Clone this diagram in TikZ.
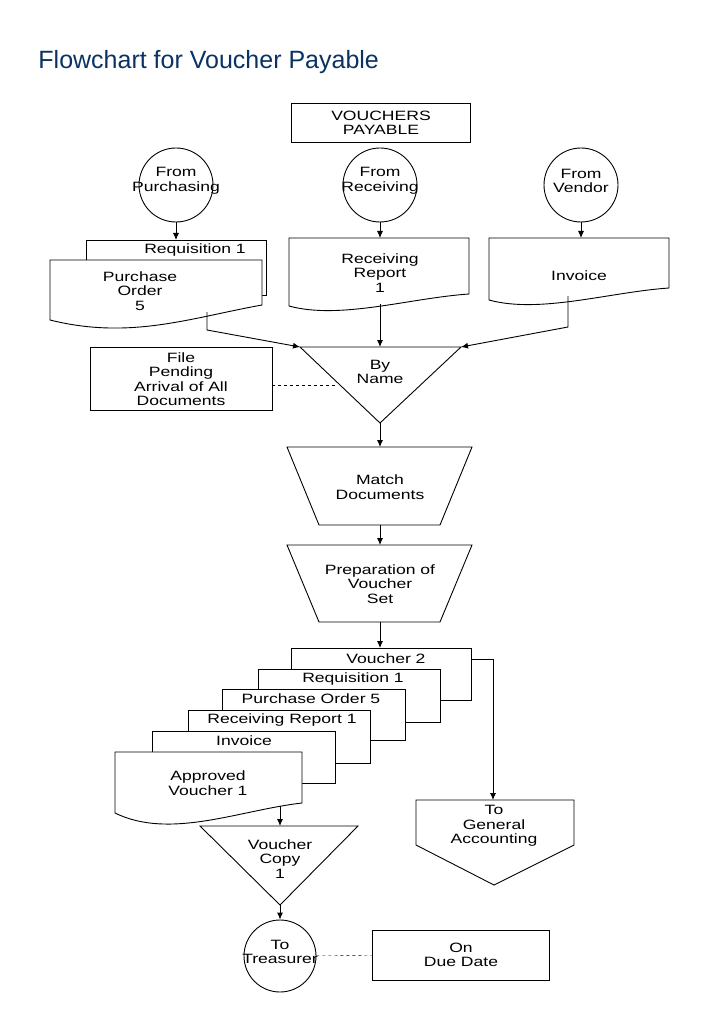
\documentclass[tikz,border=0pt]{standalone}
\usepackage{fontspec}
\setmainfont{Liberation Sans}
\newfontfamily\chartfont{Liberation Sans}[FakeStretch=1.3]
\usepackage{tikz}
\usetikzlibrary{arrows.meta}
\definecolor{titleblue}{RGB}{10,50,100}

\begin{document}
\begin{tikzpicture}[x=1pt,y=-1pt,
    line width=0.9pt,
    lbl/.style={font=\chartfont\fontsize{13.5}{14.5}\selectfont,align=center,inner sep=0pt},
    flow/.style={-{Latex[length=7pt,width=6pt]}},
    link/.style={dashed,thin},
    disk/.style={draw,circle,minimum size=74pt,inner sep=0pt}]
    \useasboundingbox (0,0) rectangle (712,1024);
    \node[anchor=west,text=titleblue,font=\fontsize{25}{25}\selectfont,inner sep=0pt] (title) at (38,62) {Flowchart for Voucher Payable};

    % Sources
    \node[draw,minimum width=179pt,minimum height=39pt,lbl] (vp) at (381,123) {VOUCHERS\\PAYABLE};
    \node[disk] (purch) at (176,185) {};
    \node[lbl] (purcht) at (176,181) {From\\Purchasing};
    \node[disk] (recv) at (380,185) {};
    \node[lbl] (recvt) at (380,181) {From\\Receiving};
    \node[disk] (vend) at (581,185) {};
    \node[lbl] (vendt) at (581,181) {From\\Vendor};

    % Incoming documents
    \draw[fill=white] (86,240) rectangle (266,295);
    \node[lbl] (req) at (195,250) {Requisition 1};
    \draw[fill=white] (50,260) -- (262,260) -- (262,305) .. controls (190,318) and (130,340) .. (50,320) -- cycle;
    \node[lbl] (po) at (140,291) {Purchase\\Order\\5};
    \coordinate (poout) at (207,312);
    \draw (289,238) -- (469,238) -- (469,294) .. controls (410,298) and (340,320) .. (289,306) -- cycle;
    \node[lbl] (rr) at (380,273) {Receiving\\Report\\1};
    \coordinate (rrout) at (380,304);
    \draw (489,238) -- (669,238) -- (669,288) .. controls (610,292) and (540,314) .. (489,300) -- cycle;
    \node[lbl] (inv) at (579,276) {Invoice};
    \coordinate (invout) at (568,296);
    \draw[flow] (purch) -- (176,240);
    \draw[flow] (recv) -- (380,238);
    \draw[flow] (vend) -- (581,238);

    % File by name
    \draw (300,347) -- (461,347) -- (380,423) -- cycle;
    \coordinate (tl) at (300,347);
    \coordinate (tr) at (461,347);
    \coordinate (tt) at (380,347);
    \coordinate (tb) at (380,423);
    \node[lbl] (byname) at (380,372) {By\\Name};
    \node[draw,minimum width=182pt,minimum height=63pt,lbl] (pend) at (181,379) {File\\Pending\\Arrival of All\\Documents};
    \coordinate (te) at (338,385);
    \draw[link] (pend.east |- te) -- (te);
    \draw[flow] (poout) -- (207,330) -- (tl);
    \draw[flow] (rrout) -- (tt);
    \draw[flow] (invout) -- (568,327) -- (tr);

    % Processing
    \draw (287,447) -- (472,447) -- (440,525) -- (319,525) -- cycle;
    \node[lbl] (match) at (380,487) {Match\\Documents};
    \draw (287,545) -- (472,545) -- (440,622) -- (319,622) -- cycle;
    \node[lbl] (prep) at (380,584) {Preparation of\\Voucher\\Set};
    \draw[flow] (tb) -- (380,447);
    \draw[flow] (380,525) -- (380,545);
    \draw[flow] (380,622) -- (380,648);

    % Voucher set
    \draw[fill=white] (291,648) rectangle (471,700);
    \node[lbl] (v2) at (386,659) {Voucher 2};
    \draw[fill=white] (258,669) rectangle (440,722);
    \node[lbl] (vreq) at (353,679) {Requisition 1};
    \draw[fill=white] (222,689) rectangle (405,740);
    \node[lbl] (vpo) at (311,699) {Purchase Order 5};
    \draw[fill=white] (188,710) rectangle (370,763);
    \node[lbl] (vrr) at (282,720) {Receiving Report 1};
    \draw[fill=white] (152,731) rectangle (335,783);
    \node[lbl] (vinv) at (244,741) {Invoice};
    \draw[fill=white] (115,752) -- (302,752) -- (302,803) .. controls (240,810) and (170,840) .. (115,813) -- cycle;
    \node[lbl] (av) at (208,783) {Approved\\Voucher 1};
    \coordinate (avout) at (280,806);
    \coordinate (v2out) at (471,659);

    % Outputs
    \draw (416,800) -- (574,800) -- (574,845) -- (494,885) -- (416,845) -- cycle;
    \node[lbl] (ga) at (494,826) {To\\General\\Accounting};
    \draw[flow] (v2out) -- (493,659) -- (493,800);
    \draw (200,826) -- (358,826) -- (280,905) -- cycle;
    \node[lbl] (vc) at (280,859) {Voucher\\Copy\\1};
    \coordinate (vctop) at (280,826);
    \coordinate (vcbot) at (280,905);
    \draw[flow] (avout) -- (vctop);
    \node[disk,minimum size=72pt] (treas) at (280,956) {};
    \node[lbl] (treast) at (280,952) {To\\Treasurer};
    \node[draw,minimum width=177pt,minimum height=50pt,lbl] (due) at (461,955) {On\\Due Date};
    \draw[flow] (vcbot) -- (treas);
    \draw[link] (treas) -- (due);
\end{tikzpicture}
\end{document}
